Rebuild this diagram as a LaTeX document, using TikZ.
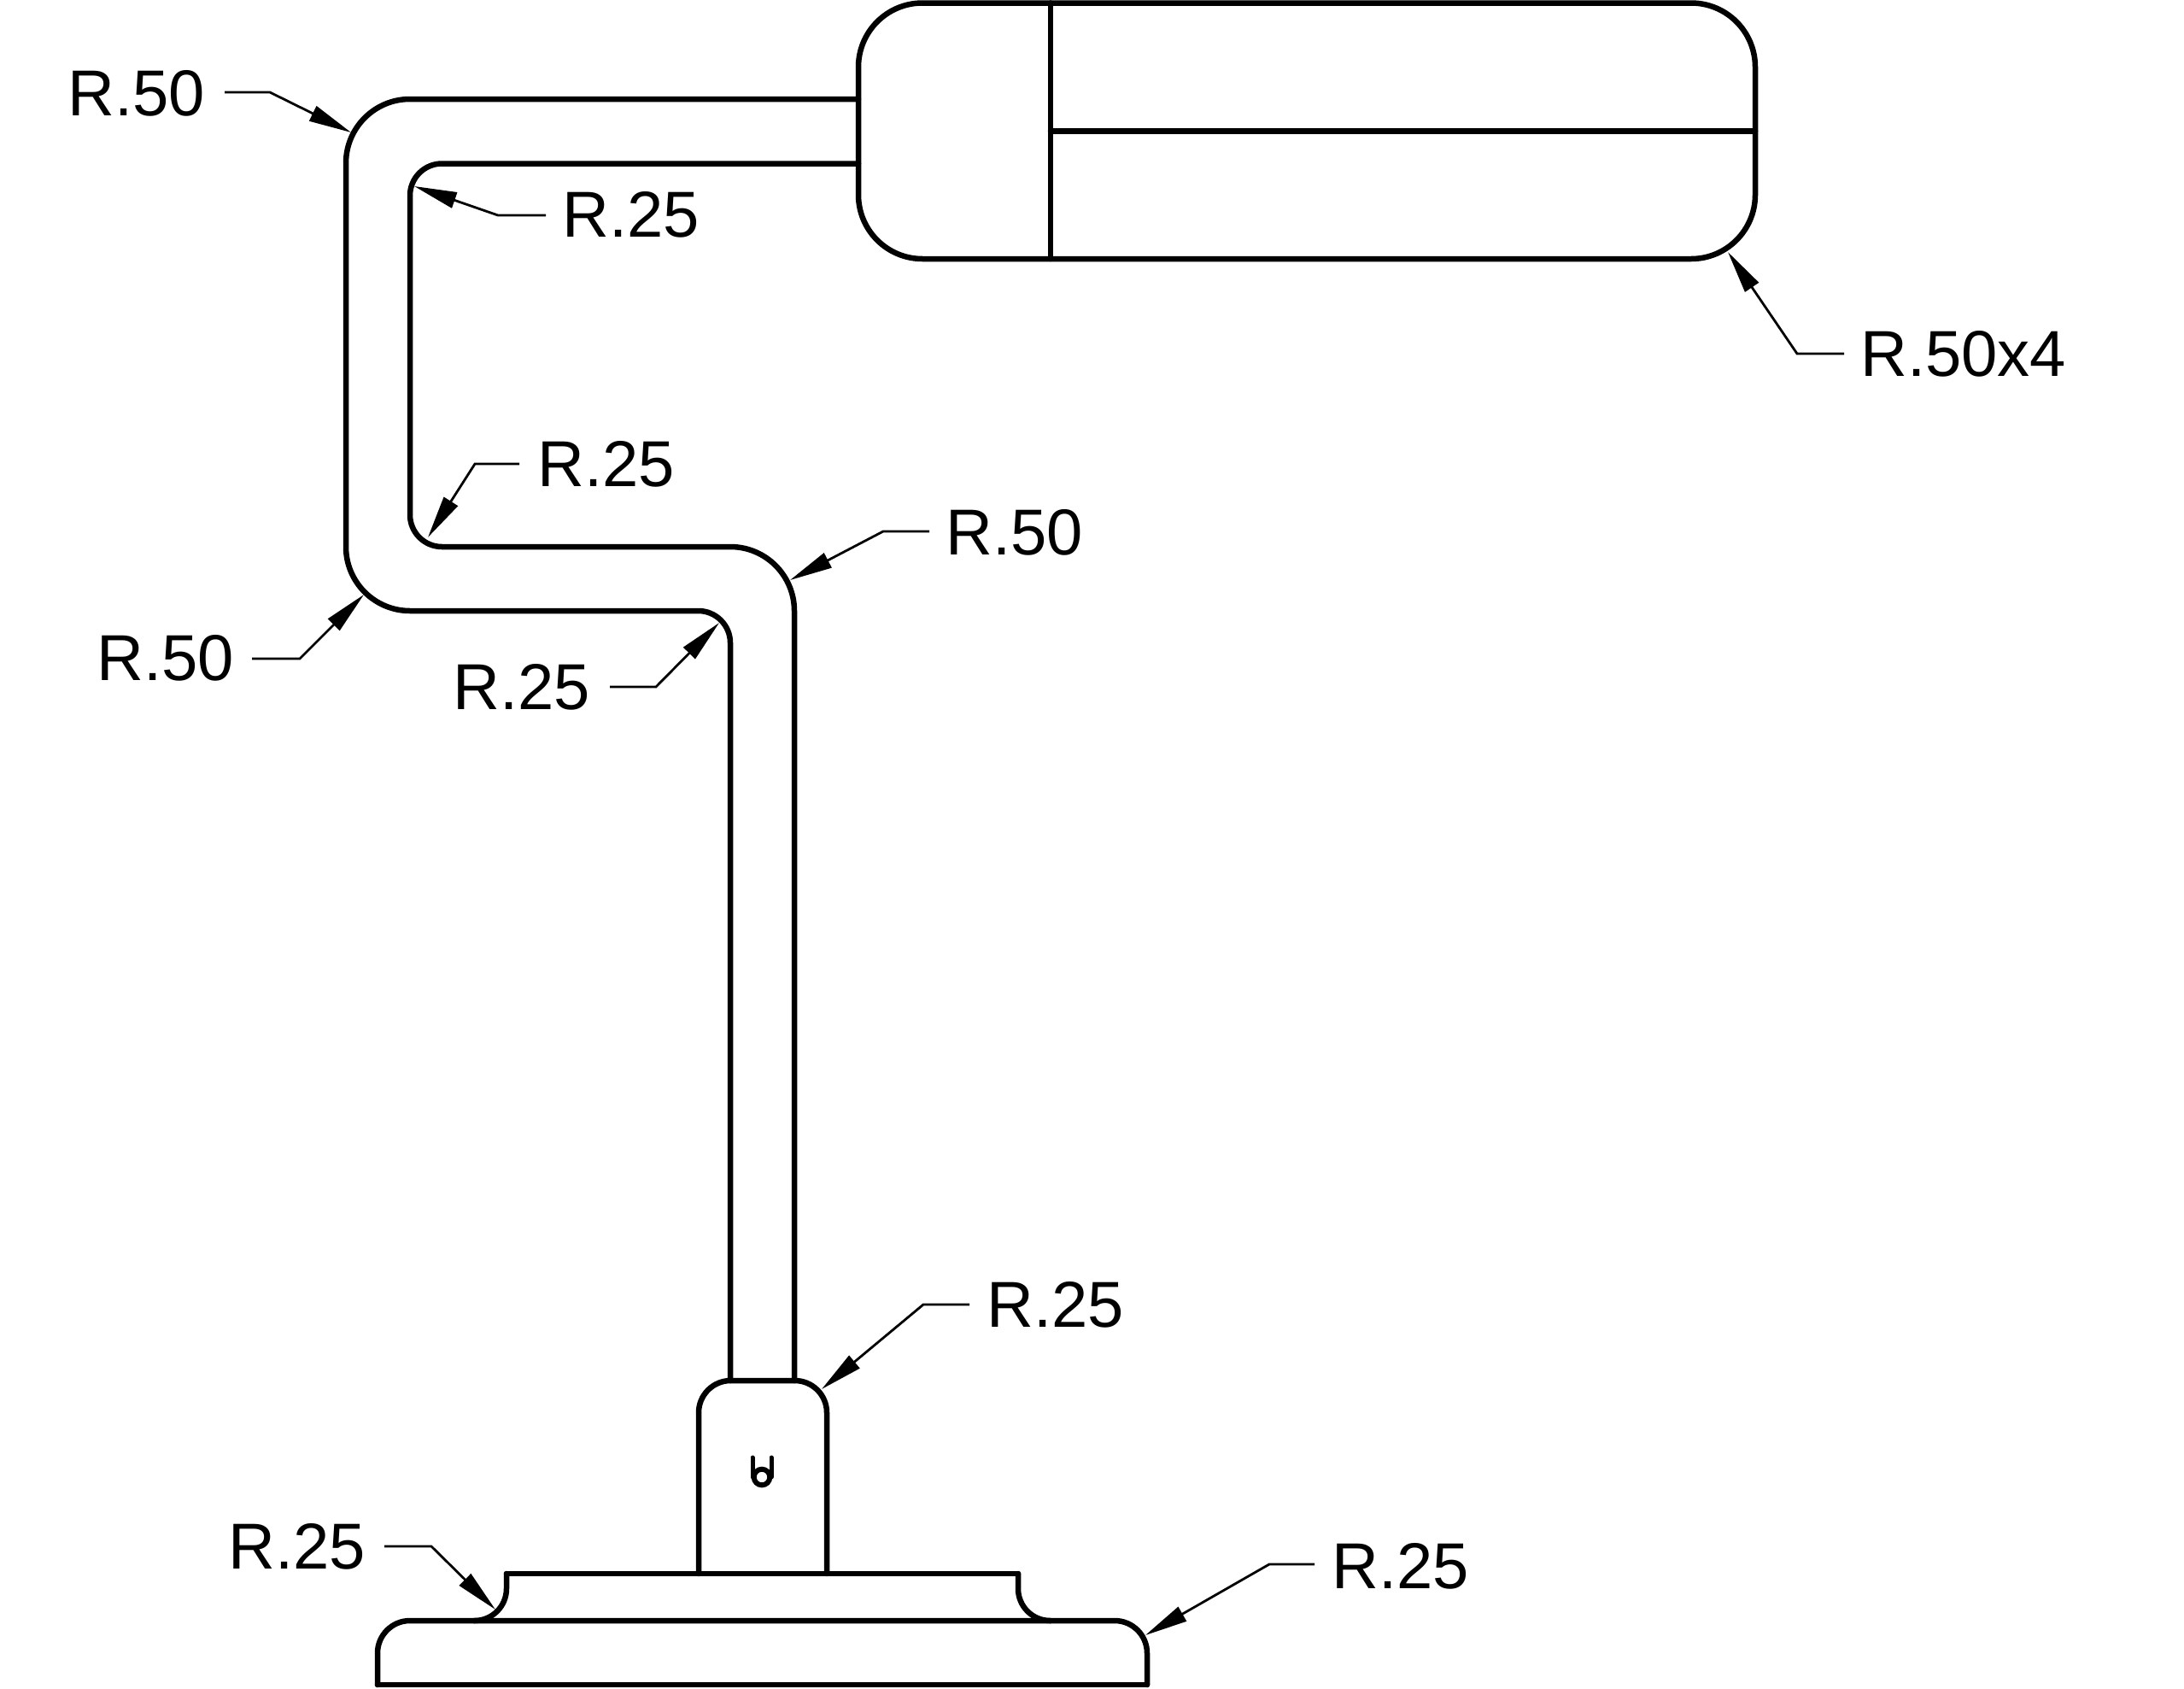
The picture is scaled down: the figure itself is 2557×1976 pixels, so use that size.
\documentclass[tikz,border=0pt]{standalone}
\usepackage{fontspec}
\setmainfont{Liberation Sans}
\usetikzlibrary{arrows.meta}
\tikzset{
  mech/.style={line width=6.5pt,line join=round,line cap=round,black},
  thinpart/.style={line width=5pt,line cap=round,line join=round,black},
  leader/.style={line width=2.8pt,black,line join=miter,-{Triangle[length=50pt,width=19pt]}},
  dimtext/.style={anchor=base west,inner sep=0pt,font=\fontsize{76}{76}\selectfont,text=black},
  big/.style={rounded corners=75pt},
  small/.style={rounded corners=37.5pt}
}
\begin{document}
\begin{tikzpicture}[x=1pt,y=-1pt]
\useasboundingbox (0,0) rectangle (2557,1976);
% lamp head
\draw[mech,big] (1005,3.5) rectangle (2055,303);
\draw[mech] (1230,3.5) -- (1230,303);
\draw[mech] (1230,153.5) -- (2055,153.5);
% arm
\draw[mech] (1005,116) [big] -- (405,116) -- (405,715) [small] -- (855,715) -- (855,1616);
\draw[mech] (1005,191.5) [small] -- (480,191.5) -- (480,640) [big] -- (930,640) -- (930,1616);
% column
\draw[mech,small] (818,1842) -- (818,1616) -- (968,1616) -- (968,1842);
\draw[thinpart] (881,1706) -- (881,1729);
\draw[thinpart] (903,1706) -- (903,1729);
\draw[line width=6pt,black] (892,1729) circle[radius=9.3pt];
% plate
\draw[mech,small] (555,1897) -- (593,1897) -- (593,1842);
\draw[mech] (593,1842) -- (1192,1842);
\draw[mech,small] (1192,1842) -- (1192,1897) -- (1230,1897);
% base
\draw[mech,rounded corners=38pt] (442,1972) -- (442,1897) -- (1343,1897) -- (1343,1972);
\draw[mech] (442,1972) -- (1343,1972);
% labels
\node[dimtext] (la) at (79,135) {R.50};
\node[dimtext] (lb) at (658,277) {R.25};
\node[dimtext] (lc) at (2178,440) {R.50x4};
\node[dimtext] (ld) at (629,569) {R.25};
\node[dimtext] (le) at (1107,649) {R.50};
\node[dimtext] (lf) at (113,796) {R.50};
\node[dimtext] (lg) at (530,830) {R.25};
\node[dimtext] (lh) at (1155,1553) {R.25};
\node[dimtext] (li) at (267,1836) {R.25};
\node[dimtext] (lj) at (1559,1859) {R.25};
% leader points
\coordinate (sa) at (263,108); \coordinate (ea) at (316,108); \coordinate (ta) at (411,155);
\coordinate (sb) at (639,252); \coordinate (eb) at (583,252); \coordinate (tb) at (485,218);
\coordinate (sc) at (2159,414); \coordinate (ec) at (2104,414); \coordinate (tc) at (2023,295);
\coordinate (sd) at (608,543); \coordinate (ed) at (556,543); \coordinate (td) at (501,629);
\coordinate (se) at (1088,622); \coordinate (ee) at (1034,622); \coordinate (te) at (925,679);
\coordinate (sf) at (295,771); \coordinate (ef) at (351,771); \coordinate (tf) at (426,696);
\coordinate (sg) at (714,804); \coordinate (eg) at (768,804); \coordinate (tg) at (842,729);
\coordinate (sh) at (1135,1527); \coordinate (eh) at (1081,1527); \coordinate (th) at (962,1626);
\coordinate (si) at (450,1810); \coordinate (ei) at (505,1810); \coordinate (ti) at (580,1884);
\coordinate (sj) at (1539,1831); \coordinate (ej) at (1486,1831); \coordinate (tj) at (1341,1914);
\foreach \k in {a,b,c,d,e,f,g,h,i,j}{
  \draw[leader] (s\k) -- (e\k) -- (t\k);
}
\end{tikzpicture}
\end{document}
